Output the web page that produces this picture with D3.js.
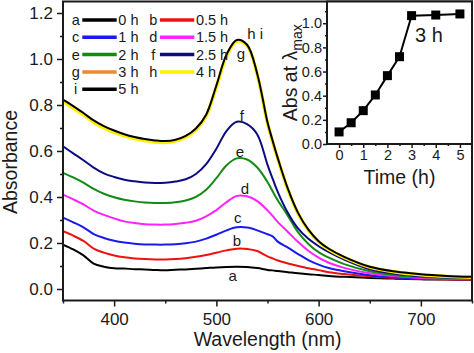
<!DOCTYPE html>
<html>
<head>
<meta charset="utf-8">
<script src="https://cdn.jsdelivr.net/npm/d3@7"></script>
<style>
  body { margin: 0; background: #fff; }
  svg { display: block; font-family: Arial, "Liberation Sans", sans-serif; }
</style>
</head>
<body>
<div id="chart"></div>
<script>
// wavelength grid (nm) shared by every spectrum
const wavelengths = [350, 360, 370, 380, 390, 400, 410, 420, 430, 440, 450, 460, 470, 480, 490, 500, 510, 520, 530, 540, 550, 555, 560, 570, 580, 590, 600, 610, 625, 650, 675, 700, 725, 750];

// absorbance, one array per reaction time
const abs0h = [0.193, 0.172, 0.146, 0.110, 0.097, 0.090, 0.089, 0.086, 0.085, 0.083, 0.082, 0.084, 0.085, 0.088, 0.091, 0.094, 0.096, 0.097, 0.096, 0.091, 0.083, 0.081, 0.078, 0.073, 0.068, 0.064, 0.061, 0.057, 0.053, 0.048, 0.045, 0.042, 0.041, 0.040];
const abs05h = [0.251, 0.232, 0.209, 0.176, 0.158, 0.146, 0.138, 0.133, 0.130, 0.128, 0.128, 0.130, 0.134, 0.140, 0.148, 0.158, 0.168, 0.175, 0.174, 0.165, 0.142, 0.133, 0.124, 0.111, 0.100, 0.090, 0.082, 0.073, 0.065, 0.055, 0.048, 0.044, 0.041, 0.040];
const abs1h = [0.310, 0.290, 0.268, 0.239, 0.222, 0.210, 0.202, 0.197, 0.194, 0.193, 0.193, 0.195, 0.199, 0.206, 0.219, 0.236, 0.255, 0.268, 0.267, 0.255, 0.238, 0.229, 0.206, 0.180, 0.152, 0.126, 0.106, 0.091, 0.077, 0.060, 0.050, 0.045, 0.043, 0.042];
const abs15h = [0.410, 0.390, 0.368, 0.341, 0.322, 0.307, 0.294, 0.287, 0.282, 0.280, 0.280, 0.283, 0.288, 0.297, 0.316, 0.343, 0.378, 0.405, 0.403, 0.382, 0.342, 0.318, 0.292, 0.248, 0.204, 0.166, 0.136, 0.114, 0.092, 0.068, 0.055, 0.048, 0.045, 0.043];
const abs2h = [0.505, 0.485, 0.462, 0.435, 0.414, 0.399, 0.388, 0.381, 0.376, 0.374, 0.374, 0.377, 0.385, 0.401, 0.432, 0.482, 0.538, 0.568, 0.563, 0.528, 0.465, 0.425, 0.386, 0.318, 0.246, 0.196, 0.160, 0.136, 0.108, 0.077, 0.060, 0.052, 0.048, 0.045];
const abs25h = [0.620, 0.590, 0.560, 0.528, 0.503, 0.487, 0.475, 0.468, 0.463, 0.461, 0.462, 0.467, 0.477, 0.500, 0.543, 0.610, 0.688, 0.727, 0.717, 0.672, 0.540, 0.480, 0.422, 0.330, 0.262, 0.218, 0.186, 0.160, 0.128, 0.086, 0.066, 0.055, 0.050, 0.047];
const abs3h = [0.820, 0.791, 0.761, 0.729, 0.704, 0.685, 0.669, 0.657, 0.648, 0.642, 0.640, 0.646, 0.663, 0.695, 0.755, 0.881, 1.016, 1.080, 1.060, 0.932, 0.722, 0.642, 0.568, 0.433, 0.328, 0.256, 0.206, 0.173, 0.138, 0.096, 0.075, 0.063, 0.056, 0.052];
const abs4h = [0.816, 0.787, 0.757, 0.725, 0.700, 0.681, 0.666, 0.654, 0.645, 0.639, 0.637, 0.643, 0.660, 0.692, 0.752, 0.878, 1.013, 1.077, 1.058, 0.930, 0.720, 0.640, 0.566, 0.431, 0.327, 0.255, 0.205, 0.172, 0.137, 0.095, 0.074, 0.062, 0.055, 0.051];
const abs5h = [0.824, 0.795, 0.765, 0.733, 0.708, 0.689, 0.673, 0.661, 0.652, 0.646, 0.643, 0.649, 0.666, 0.698, 0.758, 0.885, 1.020, 1.083, 1.062, 0.935, 0.725, 0.645, 0.570, 0.435, 0.330, 0.258, 0.208, 0.175, 0.140, 0.097, 0.076, 0.064, 0.057, 0.053];

const seriesKeys = ["a", "b", "c", "d", "e", "f", "g", "h", "i"];
const seriesTimes = ["0 h", "0.5 h", "1 h", "1.5 h", "2 h", "2.5 h", "3 h", "4 h", "5 h"];
const seriesValues = [abs0h, abs05h, abs1h, abs15h, abs2h, abs25h, abs3h, abs4h, abs5h];

// curve letter labels, placed in data coords [wavelength, absorbance]
const labelText = ["a", "b", "c", "d", "e", "f", "g", "h i"];
const labelWl = [516, 520, 521, 528, 523, 525, 524, 538];
const labelAbs = [0.033, 0.189, 0.285, 0.411, 0.576, 0.730, 1.002, 1.087];

// inset: absorbance at lambda max vs time
const times = [0, 0.5, 1, 1.5, 2, 2.5, 3, 4, 5];
const absAtMax = [0.100, 0.176, 0.276, 0.406, 0.566, 0.723, 1.063, 1.068, 1.077];

const colors = ["#000000", "#ee1111", "#1a1aee", "#ff22ff", "#138a13", "#0c0c80", "#f08a30", "#ffee00", "#000000"];
const widths = [2, 2, 2, 2, 2, 2, 2.4, 3.4, 2];

const width = 474, height = 353;
const ink = "#1a1a1a";

const svg = d3.select("#chart").append("svg")
  .attr("width", width)
  .attr("height", height);

// main plot box
const plot = { left: 63, right: 472, top: 1.5, bottom: 300.5 };

const x = d3.scaleLinear().domain([350, 750]).range([plot.left, plot.right]);
const y = d3.scaleLinear().domain([-0.05, 1.25]).range([plot.bottom, plot.top]);

svg.append("clipPath").attr("id", "clip")
  .append("rect")
  .attr("x", plot.left).attr("y", plot.top)
  .attr("width", plot.right - plot.left).attr("height", plot.bottom - plot.top);

// axes (major + minor ticks)
function styleAxis(g, size) {
  g.select(".domain").remove();
  g.selectAll("line").attr("stroke", ink).attr("stroke-width", 1.5);
  g.selectAll("text").attr("fill", ink).style("font-size", size + "px");
}

svg.append("g")
  .attr("transform", `translate(0,${plot.bottom})`)
  .call(d3.axisBottom(x).tickValues([400, 500, 600, 700]).tickSize(6).tickPadding(6.5))
  .call(g => styleAxis(g, 17));
svg.append("g")
  .attr("transform", `translate(0,${plot.bottom})`)
  .call(d3.axisBottom(x).tickValues([350, 450, 550, 650, 750]).tickSize(3).tickFormat(""))
  .call(g => styleAxis(g, 17));

svg.append("g")
  .attr("transform", `translate(${plot.left},0)`)
  .call(d3.axisLeft(y).tickValues([0, 0.2, 0.4, 0.6, 0.8, 1.0, 1.2]).tickSize(6).tickPadding(4).tickFormat(d3.format(".1f")))
  .call(g => styleAxis(g, 17));
svg.append("g")
  .attr("transform", `translate(${plot.left},0)`)
  .call(d3.axisLeft(y).tickValues([0.1, 0.3, 0.5, 0.7, 0.9, 1.1]).tickSize(3).tickFormat(""))
  .call(g => styleAxis(g, 17));

// spectra
const line = d3.line()
  .x(d => x(d[0]))
  .y(d => y(d[1]))
  .curve(d3.curveCatmullRom.alpha(0.5));

const curves = svg.append("g").attr("clip-path", "url(#clip)");
seriesValues.forEach((vals, i) => {
  curves.append("path")
    .datum(wavelengths.map((w, j) => [w, vals[j]]))
    .attr("d", line)
    .attr("fill", "none")
    .attr("stroke", colors[i])
    .attr("stroke-width", widths[i])
    .attr("stroke-linejoin", "round");
});

// letters next to the peaks
svg.append("g").selectAll("text")
  .data(labelText)
  .join("text")
  .attr("x", (d, i) => x(labelWl[i]))
  .attr("y", (d, i) => y(labelAbs[i]))
  .attr("text-anchor", "middle")
  .attr("fill", ink)
  .style("font-size", "15px")
  .text(d => d);

// legend
const legend = svg.append("g");
seriesKeys.forEach((k, i) => {
  const col = i % 2, row = Math.floor(i / 2);
  const lx = 75.7 + col * 77.6, ly = 25 + row * 17.3;
  legend.append("text")
    .attr("x", lx).attr("y", ly)
    .attr("text-anchor", "middle")
    .attr("fill", ink)
    .style("font-size", "14.5px")
    .text(k);
  legend.append("line")
    .attr("x1", lx + 6.6).attr("x2", lx + 41)
    .attr("y1", ly - 5).attr("y2", ly - 5)
    .attr("stroke", colors[i])
    .attr("stroke-width", 3.5);
  legend.append("text")
    .attr("x", lx + 42.6).attr("y", ly)
    .attr("fill", ink)
    .style("font-size", "14.5px")
    .text(seriesTimes[i]);
});

// frame
svg.append("rect")
  .attr("x", plot.left).attr("y", plot.top)
  .attr("width", plot.right - plot.left).attr("height", plot.bottom - plot.top)
  .attr("fill", "none")
  .attr("stroke", ink)
  .attr("stroke-width", 2);

// axis titles
svg.append("text")
  .attr("x", (plot.left + plot.right) / 2)
  .attr("y", 346)
  .attr("text-anchor", "middle")
  .attr("fill", ink)
  .style("font-size", "19.5px")
  .text("Wavelength (nm)");

svg.append("text")
  .attr("transform", "translate(17,162) rotate(-90)")
  .attr("text-anchor", "middle")
  .attr("fill", ink)
  .style("font-size", "19.5px")
  .text("Absorbance");

// ---- inset ----
const inset = { left: 327, right: 472, top: 1.5, bottom: 144 };
const xi = d3.scaleLinear().domain([-0.5, 5.5]).range([inset.left, inset.right]);
const yi = d3.scaleLinear().domain([0, 1.18]).range([inset.bottom, inset.top]);

svg.append("rect")
  .attr("x", inset.left).attr("y", inset.top)
  .attr("width", inset.right - inset.left).attr("height", inset.bottom - inset.top)
  .attr("fill", "#fff");

svg.append("g")
  .attr("transform", `translate(0,${inset.bottom})`)
  .call(d3.axisBottom(xi).tickValues([0, 1, 2, 3, 4, 5]).tickSize(4).tickPadding(2).tickFormat(d3.format("d")))
  .call(g => styleAxis(g, 14.5));
svg.append("g")
  .attr("transform", `translate(0,${inset.bottom})`)
  .call(d3.axisBottom(xi).tickValues([0.5, 1.5, 2.5, 3.5, 4.5]).tickSize(2).tickFormat(""))
  .call(g => styleAxis(g, 14.5));
svg.append("g")
  .attr("transform", `translate(${inset.left},0)`)
  .call(d3.axisLeft(yi).tickValues([0, 0.2, 0.4, 0.6, 0.8, 1.0]).tickSize(4).tickPadding(1).tickFormat(d3.format(".1f")))
  .call(g => styleAxis(g, 14.5));
svg.append("g")
  .attr("transform", `translate(${inset.left},0)`)
  .call(d3.axisLeft(yi).tickValues([0.1, 0.3, 0.5, 0.7, 0.9, 1.1]).tickSize(2).tickFormat(""))
  .call(g => styleAxis(g, 14.5));

const insetPts = times.map((t, i) => [t, absAtMax[i]]);
svg.append("path")
  .datum(insetPts)
  .attr("d", d3.line().x(d => xi(d[0])).y(d => yi(d[1])))
  .attr("fill", "none")
  .attr("stroke", "#000")
  .attr("stroke-width", 2);
svg.append("g").selectAll("rect")
  .data(insetPts)
  .join("rect")
  .attr("x", d => xi(d[0]) - 4.5)
  .attr("y", d => yi(d[1]) - 4.5)
  .attr("width", 9).attr("height", 9)
  .attr("fill", "#000");

svg.append("rect")
  .attr("x", inset.left).attr("y", inset.top)
  .attr("width", inset.right - inset.left).attr("height", inset.bottom - inset.top)
  .attr("fill", "none")
  .attr("stroke", ink)
  .attr("stroke-width", 2);

svg.append("text")
  .attr("x", 415).attr("y", 41.5)
  .attr("fill", ink)
  .style("font-size", "20px")
  .text("3 h");

svg.append("text")
  .attr("x", (inset.left + inset.right) / 2)
  .attr("y", 184)
  .attr("text-anchor", "middle")
  .attr("fill", ink)
  .style("font-size", "19.5px")
  .text("Time (h)");

const yl = svg.append("text")
  .attr("transform", `translate(297,${(inset.top + inset.bottom) / 2}) rotate(-90)`)
  .attr("text-anchor", "middle")
  .attr("fill", ink)
  .style("font-size", "19.5px");
yl.append("tspan").text("Abs at λ");
yl.append("tspan").attr("dy", 5).style("font-size", "14px").text("max");
</script>
</body>
</html>
